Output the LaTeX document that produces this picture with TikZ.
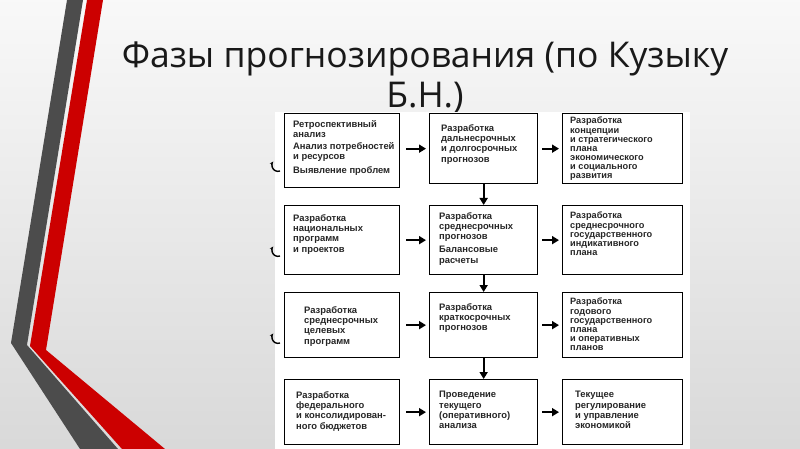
\documentclass[tikz,border=0pt]{standalone}
\usepackage{fontspec}
\setmainfont{Liberation Sans}
\newfontfamily\titlefont{Open Sans}
\usetikzlibrary{arrows.meta}
\begin{document}
\begin{tikzpicture}[x=1pt,y=-1pt,
  bx/.style={draw=black,line width=1.3pt,fill=white,anchor=north west,inner sep=0pt},
  tx/.style={font=\bfseries\fontsize{9.4}{10.4}\selectfont,align=left,anchor=north west,inner sep=0pt,text=black!85},
  tc/.style={tx,font=\bfseries\fontsize{9.2}{9.1}\selectfont},
  arr/.style={-{Triangle[length=7pt,width=8pt]},line width=1.8pt}]
\useasboundingbox (0,0) rectangle (800,449);
\shade[top color=white!95!gray,bottom color=gray!30] (0,0) rectangle (800,449);
\fill[gray!60!black] (67,0)--(83,0)--(27,345)--(118,449)--(80,449)--(11,343)--cycle;
\fill[red!80!black] (87,0)--(103,0)--(46,350)--(165,449)--(122,449)--(30,346)--cycle;
\node[font=\titlefont\fontsize{35.5}{40}\selectfont,align=center,text=black!90] (title) at (425,77) {Фазы прогнозирования (по Кузыку\\Б.Н.)};
\fill[white] (275,112) rectangle (690,449);
% boxes
\foreach \n/\x/\y/\w/\h in {a1/284/113/115/74,a2/429/113/108/70,a3/562/113/120/70,
  b1/284/205/115/69,b2/429/205/108/69,b3/562/205/120/69,
  c1/284/292/115/65,c2/429/292/108/65,c3/562/292/120/65,
  d1/284/379/115/65,d2/429/379/108/65,d3/562/379/120/65}
  \node[bx,minimum width=\w pt,minimum height=\h pt] (\n) at (\x,\y) {};
\node[tx] at (293,120) {Ретроспективный\\анализ};
\node[tx] at (293,142) {Анализ потребностей\\и ресурсов};
\node[tx] at (293,166) {Выявление проблем};
\node[tx] at (441,124) {Разработка\\дальнесрочных\\и долгосрочных\\прогнозов};
\node[tc] at (570,117) {Разработка\\концепции\\и стратегического\\плана\\экономического\\и социального\\развития};
\node[tx] at (293,214) {Разработка\\национальных\\программ\\и проектов};
\node[tx] at (439,212) {Разработка\\среднесрочных\\прогнозов};
\node[tx] at (439,246) {Балансовые\\расчеты};
\node[tc] at (570,212) {Разработка\\среднесрочного\\государственного\\индикативного\\плана};
\node[tx] at (304,306) {Разработка\\среднесрочных\\целевых\\программ};
\node[tx] at (439,303) {Разработка\\краткосрочных\\прогнозов};
\node[tc] at (570,298) {Разработка\\годового\\государственного\\плана\\и оперативных\\планов};
\node[tx] at (296,391) {Разработка\\федерального\\и консолидирован-\\ного бюджетов};
\node[tx] at (439,391) {Проведение\\текущего\\(оперативного)\\анализа};
\node[tx] at (575,391) {Текущее\\регулирование\\и управление\\экономикой};
% arrows
\foreach \r in {a,b,c,d}{
  \draw[arr] ([xshift=6pt]\r1.east |- \r2.west) -- ([xshift=-3pt]\r2.west);
  \draw[arr] ([xshift=4pt]\r2.east) -- ([xshift=-3pt]\r3.west);
}
\draw[arr] (a2.south) -- (b2.north);
\draw[arr] (b2.south) -- (c2.north);
\draw[arr] (c2.south) -- (d2.north);
% small curly arrows at left
\foreach \y in {183,268,355}
  \draw[line width=1.4pt,-{Stealth[length=4pt]}] (280,\y-12) arc[start angle=70,end angle=220,radius=6];
\end{tikzpicture}
\end{document}
